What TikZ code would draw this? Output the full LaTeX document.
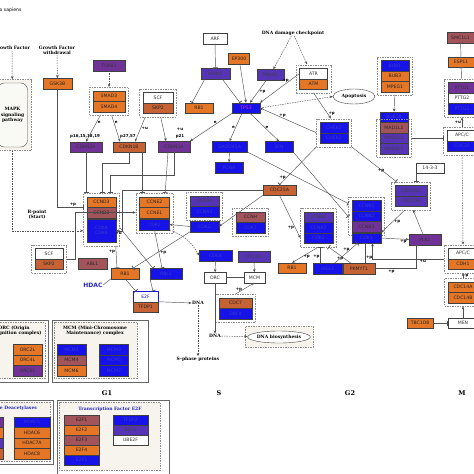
\documentclass[tikz,border=0pt]{standalone}
\usepackage{fontspec}
\setsansfont{DejaVu Sans}
\newfontfamily\kserif{DejaVu Serif}
\usetikzlibrary{positioning,fit,arrows.meta,shapes.geometric}

\definecolor{korange}{RGB}{228,118,38}
\definecolor{kbrown}{RGB}{198,98,52}
\definecolor{krose}{RGB}{162,84,90}
\definecolor{kpurple}{RGB}{112,50,150}
\definecolor{kindigo}{RGB}{86,52,182}
\definecolor{kblue}{RGB}{22,18,232}
\definecolor{kbluetxt}{RGB}{60,60,200}
\definecolor{kline}{RGB}{80,80,80}
\definecolor{kbeige}{RGB}{246,244,236}
\definecolor{ktitle}{RGB}{36,36,190}
\definecolor{kmagenta}{RGB}{235,40,200}

\tikzstyle{gene} = [rectangle, draw=black!75, line width=0.4pt, minimum width=29pt, minimum height=10.5pt, inner sep=0pt, outer sep=0pt, font=\fontsize{4.6}{5}\sffamily]
\tikzstyle{gor} = [gene, fill=korange, text=black!85]
\tikzstyle{gbr} = [gene, fill=kbrown, text=black!85]
\tikzstyle{gro} = [gene, fill=krose, text=black!85]
\tikzstyle{gpu} = [gene, fill=kpurple, text=black!80]
\tikzstyle{gin} = [gene, fill=kindigo, text=black!75]
\tikzstyle{gbl} = [gene, fill=kblue, text=kbluetxt]
\tikzstyle{gwh} = [gene, fill=white, text=black!80]
\tikzstyle{cplx} = [rectangle, draw=black!45, dash pattern=on 1.5pt off 1pt, inner sep=3.5pt]
\tikzstyle{grp} = [draw=black!45, dash pattern=on 1.5pt off 1pt, fill=kbeige]
\tikzstyle{grpframe} = [draw=black!60, line width=0.5pt]
\tikzstyle{tlabel} = [font=\fontsize{4.5}{5}\kserif\bfseries, align=center, inner sep=0.5pt]
\tikzstyle{gtitle} = [font=\fontsize{4.5}{5}\kserif\bfseries, align=center, inner sep=0.5pt]
\tikzstyle{phase} = [font=\fontsize{6.5}{7}\kserif\bfseries, inner sep=0pt]
\tikzstyle{lbl} = [font=\fontsize{4}{4}\sffamily\bfseries, inner sep=0.8pt]
\tikzstyle{link} = [draw=kline, line width=0.45pt]
\tikzstyle{act} = [link, -{Stealth[length=3.2pt,width=2.6pt]}]
\tikzstyle{inh} = [link, -{Bar[width=5pt,line width=0.8pt]}]
\tikzstyle{ind} = [act, dash pattern=on 1.5pt off 1pt]

\begin{document}
\begin{tikzpicture}[x=1pt,y=-1pt]
\useasboundingbox (0,0) rectangle (474,474);

% group boxes at the bottom
\draw[grpframe] (-12,320) rectangle (48,382);
\draw[grp] (-10,322) rectangle (45,378);
\draw[grpframe] (52,320) rectangle (148,382);
\draw[grp] (54,322) rectangle (137,378);
\draw[grpframe] (-12,400) rectangle (53,464);
\draw[grp] (-10,402) rectangle (50,461);
\draw[grpframe] (57,400) rectangle (169,480);
\draw[grp] (59,402) rectangle (160,470);
\node (dnabioc) [grp, minimum width=68pt, minimum height=21pt] at (279,336.5) {};

\node (hs) [anchor=east, font=\fontsize{4.6}{5}\sffamily] at (25,10) {Homo sapiens};

% growth factor, MAPK
\node (gf) [tlabel] at (12,48) {Growth Factor};
\node (mapkc) [cplx, fill=kbeige, minimum width=37pt, minimum height=71pt] at (12.5,115) {};
\node (mapk) [rectangle, rounded corners=7pt, draw=black!70, fill=kbeige!50!white, minimum width=30pt, minimum height=64pt, align=center, font=\fontsize{4.5}{5.6}\kserif\bfseries] at (12.5,115) {MAPK\\signaling\\pathway};
\node (gfw) [tlabel] at (57,50) {Growth Factor\\withdrawal};
\node (gsk3b) [gor] at (57.5,83.5) {GSK3B};
\node (tgfb1) [gpu, minimum width=32pt] at (109,65.5) {TGFB1};
\node (smad3) [gor, minimum width=32pt] at (109,96) {SMAD3};
\node (smad4) [gor, minimum width=32pt, below=0pt of smad3] {SMAD4};
\node (smadc) [cplx, fit=(smad3)(smad4)] {};
\node (scf1) [gwh, minimum width=30pt] at (158,97.5) {SCF};
\node (skp2a) [gbr, minimum width=30pt, below=0pt of scf1] {SKP2};
\node (scfc) [cplx, fit=(scf1)(skp2a)] {};
\node (cdkn2a) [gpu, minimum width=32pt] at (86,147) {CDKN2A};
\node (cdkn1b) [gbr, minimum width=32pt] at (129,147) {CDKN1B};
\node (cdkn1a) [gpu, minimum width=32pt] at (174,146.5) {CDKN1A};
\node (p16) [lbl] at (85,136) {p16,15,18,19};
\node (p27) [lbl] at (128,136) {p27,57};
\node (p21) [lbl] at (180,136) {p21};

% p53 part
\node (arf) [gwh, minimum width=24pt] at (215,38.5) {ARF};
\node (mdm2) [gin] at (215.5,73.5) {MDM2};
\node (ep300) [gor, minimum width=21pt] at (239,58.5) {EP300};
\node (prkdc) [gin, minimum width=27pt] at (270.5,74.5) {PRKDC};
\node (ddc) [tlabel] at (293,33) {DNA damage checkpoint};
\node (atr) [gwh, minimum width=28pt] at (313.5,73.5) {ATR};
\node (atm) [gor, minimum width=28pt, below=0pt of atr] {ATM};
\node (atrc) [cplx, fit=(atr)(atm)] {};
\node (rb1a) [gor, minimum width=28pt] at (199,108) {RB1};
\node (tp53) [gbl, minimum width=28pt, text=kmagenta] at (246,108) {TP53};
\node (apop) [ellipse, draw=black!75, minimum width=42pt, minimum height=15pt, inner sep=0pt, font=\fontsize{4.5}{5}\kserif\bfseries] at (354,96.5) {Apoptosis};
\node (chek1) [gbl, minimum width=28pt] at (334,127.5) {CHEK1};
\node (chek2) [gbl, minimum width=28pt, below=0pt of chek1] {CHEK2};
\node (chekc) [cplx, fit=(chek1)(chek2)] {};
\node (gadd45a) [gbl, minimum width=35pt] at (229.5,146.5) {GADD45A};
\node (sfn) [gbl, minimum width=28pt] at (279,146.5) {SFN};
\node (pcna) [gbl, minimum width=28pt] at (229,167.5) {PCNA};

% spindle checkpoint
\node (bub1) [gbl, minimum width=28pt] at (395,65.5) {BUB1};
\node (bub3) [gor, minimum width=28pt, below=0pt of bub1] {BUB3};
\node (mpeg1) [gor, minimum width=28pt, below=0pt of bub3] {MPEG1};
\node (bubc) [cplx, fit=(bub1)(mpeg1)] {};
\node (bub1b) [gbl, minimum width=28pt] at (394,117) {BUB1B};
\node (mad1l1) [gro, minimum width=28pt, below=0pt of bub1b] {MAD1L1};
\node (mad2l1) [gin, minimum width=28pt, below=0pt of mad1l1] {MAD2L1};
\node (mad2l2) [gin, minimum width=28pt, below=0pt of mad2l1] {MAD2L2};
\node (madc) [cplx, fit=(mad1l1)(mad2l2)] {};
\node (smc1l1) [gro, minimum width=27pt] at (460.5,37.5) {SMC1L1};
\node (espl1) [gor, minimum width=26pt] at (461,62) {ESPL1};
\node (pttg1) [gpu, minimum width=28pt] at (462,87.5) {PTTG1};
\node (pttg2) [gwh, minimum width=28pt, below=0pt of pttg1] {PTTG2};
\node (pttg3) [gbl, minimum width=28pt, below=0pt of pttg2] {PTTG3};
\node (pttgc) [cplx, fit=(pttg1)(pttg3)] {};
\node (apcc1) [gwh, minimum width=30pt] at (462,135.5) {APC/C};
\node (cdc20) [gbl, minimum width=30pt, below=0pt of apcc1] {CDC20};
\node (apcc1c) [cplx, fit=(apcc1)(cdc20)] {};

% cyclins and CDKs
\node (ccnd3) [gor] at (101.5,202) {CCND3};
\node (ccnd2) [gro, below=0pt of ccnd3] {CCND2};
\node (cdk46) [gbl, minimum height=23pt, align=center, below=1.5pt of ccnd2] {CDK4\\CDK6};
\node (ccndc) [cplx, fit=(ccnd3)(cdk46)] {};
\node (ccne2) [gor, minimum width=30pt] at (154.5,202) {CCNE2};
\node (ccne1) [gor, minimum width=30pt, below=0pt of ccne2] {CCNE1};
\node (cdk2a) [gbl, minimum width=30pt, below=1.5pt of ccne1] {CDK2};
\node (ccnec) [cplx, fit=(ccne2)(cdk2a)] {};
\node (ccna1) [gin] at (204.5,201) {CCNA1};
\node (ccna2) [gbl, below=0pt of ccna1] {CCNA2};
\node (ccnac) [cplx, fit=(ccna1)(ccna2)] {};
\node (cdk2b) [gbl, below=4.5pt of ccna2] {CDK2};
\node (ccnh) [gro] at (250.5,217) {CCNH};
\node (cdk7) [gbl, below=0pt of ccnh] {CDK7};
\node (ccnhc) [cplx, fit=(ccnh)(cdk7)] {};
\node (cdc25a) [gbr, minimum width=33pt] at (279.5,190) {CDC25A};
\node (ccna1r) [gin] at (318.5,217) {CCNA1};
\node (ccna2r) [gbl, below=0pt of ccna1r] {CCNA2};
\node (cdk2c) [gbl, below=0pt of ccna2r] {CDK2};
\node (ccnarc) [cplx, fit=(ccna1r)(cdk2c)] {};
\node (ccnb1) [gbl] at (366.5,205.5) {CCNB1};
\node (ccnb2) [gbl, below=0pt of ccnb1] {CCNB2};
\node (ccnb3) [gpu, below=0pt of ccnb2] {CCNB3};
\node (ccnbc) [cplx, fit=(ccnb1)(ccnb3)] {};
\node (cdk1) [gbl, below=1pt of ccnb3] {CDK1};
\node (cdc25c) [gin, minimum width=32pt] at (411,190.5) {CDC25C};
\node (cdc25b) [gin, minimum width=32pt, below=0pt of cdc25c] {CDC25B};
\node (cdc25cc) [cplx, fit=(cdc25c)(cdc25b)] {};
\node (ywhab) [gwh, minimum width=28pt] at (430,168) {14-3-3};
\node (plk1) [gpu, minimum width=32pt] at (425,239.5) {PLK1};
\node (apcc2) [gwh, minimum width=30pt] at (463,253.5) {APC/C};
\node (cdh1) [gor, minimum width=30pt, below=0pt of apcc2] {CDH1};
\node (apcc2c) [cplx, fit=(apcc2)(cdh1)] {};
\node (cdc14a) [gor, minimum width=30pt] at (463,287) {CDC14A};
\node (cdc14b) [gor, minimum width=30pt, below=0pt of cdc14a] {CDC14B};
\node (cdc14c) [cplx, fit=(cdc14a)(cdc14b)] {};
\node (men) [gwh, minimum width=30pt] at (463,323) {MEN};
\node (tbc1d8) [gor, minimum width=26pt] at (420,323) {TBC1D8};

% G1/S
\node (rpoint) [tlabel] at (37,215) {R-point\\(Start)};
\node (scf2) [gwh, minimum width=28pt] at (49,253.5) {SCF};
\node (skp2b) [gbr, minimum width=28pt, below=0pt of scf2] {SKP2};
\node (scf2c) [cplx, fit=(scf2)(skp2b)] {};
\node (abl1) [gro] at (92.5,263.5) {ABL1};
\node (rb1b) [gor, minimum width=28pt] at (125,273.5) {RB1};
\node (rbl1) [gbl, minimum width=32pt] at (166,273.5) {RBL1};
\node (hdac) [font=\fontsize{6}{6}\sffamily\bfseries, text=ktitle, inner sep=0.5pt] at (93,285) {HDAC};
\node (e2f) [gene, minimum width=25pt, fill=white, draw=kblue, text=kblue] at (145.5,296.5) {E2F};
\node (tfdp1) [gbr, minimum width=25pt, below=0pt of e2f] {TFDP1};
\node (dnaa) [tlabel] at (198,303) {DNA};
\node (sphase) [tlabel] at (198,359) {S-phase proteins};
\node (cdc6) [gbl, minimum width=33pt] at (215.5,255.5) {CDC6};
\node (cdc45l) [gin, minimum width=32pt] at (254,256.5) {CDC45L};
\node (orc) [gwh, minimum width=22pt] at (215,277.5) {ORC};
\node (mcm) [gwh, minimum width=21pt] at (254.5,277.5) {MCM};
\node (cdc7) [gbr, minimum width=33pt] at (235.5,303) {CDC7};
\node (dbf4) [gbl, minimum width=33pt, below=0pt of cdc7] {DBF4};
\node (cdc7c) [cplx, fit=(cdc7)(dbf4)] {};
\node (rb1c) [gor, minimum width=28pt] at (292,268) {RB1};
\node (wee1) [gbl] at (327.5,268.5) {WEE1};
\node (pkmyt1) [gbr, minimum width=32pt] at (359,268.5) {PKMYT1};
\node (dnab) [tlabel] at (215,336) {DNA};
\node (dnabio) [ellipse, draw=black!75, fill=white, minimum width=58pt, minimum height=12pt, inner sep=0pt, font=\fontsize{4.5}{5}\kserif\bfseries] at (279,337) {DNA biosynthesis};

% complexes at the bottom
\node (orct) [gtitle] at (14,331) {ORC (Origin\\Recognition complex)};
\node (orc2l) [gor] at (27.5,349.5) {ORC2L};
\node (orc4l) [gor, below=0pt of orc2l] {ORC4L};
\node (orc6l) [gpu, below=0pt of orc4l] {ORC6L};
\node (mcmt) [gtitle] at (95,331) {MCM (Mini-Chromosome\\Maintenance) complex};
\node (mcm2) [gbl] at (71.5,349.5) {MCM2};
\node (mcm4) [gro, below=0pt of mcm2] {MCM4};
\node (mcm6) [gor, below=0pt of mcm4] {MCM6};
\node (mcm3) [gbl] at (114,349.5) {MCM3};
\node (mcm5) [gbl, below=0pt of mcm3] {MCM5};
\node (mcm7) [gbl, below=0pt of mcm5] {MCM7};
\node (hdact) [gtitle, text=ktitle] at (10,408) {Histone Deacetylases};
\node (hdac1) [gpu, minimum width=30pt] at (-12,422) {HDAC1};
\node (hdac2) [gor, minimum width=30pt, below=0pt of hdac1] {HDAC2};
\node (hdac3) [gin, minimum width=30pt, below=0pt of hdac2] {HDAC3};
\node (hdac4) [gbr, minimum width=30pt, below=0pt of hdac3] {HDAC4};
\node (hdac5) [gbl, minimum width=36pt] at (32,422) {HDAC5};
\node (hdac6) [gor, minimum width=36pt, below=0pt of hdac5] {HDAC6};
\node (hdac7a) [gor, minimum width=36pt, below=0pt of hdac6] {HDAC7A};
\node (hdac8) [gor, minimum width=36pt, below=0pt of hdac7a] {HDAC8};
\node (e2ft) [gtitle, text=ktitle] at (110,409) {Transcription Factor E2F};
\node (e2f1) [gro, minimum width=35pt, minimum height=10pt] at (81.5,420) {E2F1};
\node (e2f2) [gor, minimum width=35pt, minimum height=10pt, below=0pt of e2f1] {E2F2};
\node (e2f3) [gro, minimum width=35pt, minimum height=10pt, below=0pt of e2f2] {E2F3};
\node (e2f4) [gor, minimum width=35pt, minimum height=10pt, below=0pt of e2f3] {E2F4};
\node (e2f5) [gbl, minimum width=35pt, minimum height=10pt, below=0pt of e2f4] {E2F5};
\node (tfdp2) [gbl, minimum width=35pt, minimum height=10pt] at (130.5,420) {TFDP2};
\node (e2f6) [gin, minimum width=35pt, minimum height=10pt, below=0pt of tfdp2] {E2F6};
\node (ube2f) [gwh, minimum width=35pt, minimum height=10pt, below=0pt of e2f6] {UBE2F};

% phases
\node (g1) [phase] at (107,393) {G1};
\node (sph) [phase] at (219,393) {S};
\node (g2) [phase] at (350,393) {G2};
\node (mph) [phase] at (462,393) {M};

% connectors
\draw [ind] (gf) -- (mapkc);
\draw [ind] (mapkc.south) |- (ccndc.west |- cdk46.west);
\draw [ind] (gfw) -- (gsk3b);
\draw [inh] (gsk3b.south) |- (ccndc.west |- ccnd3.south) node[lbl, pos=0.8, above] {+p};
\draw [ind] (tgfb1) -- (smadc);
\draw [act] ([xshift=11pt]smadc.south west) -- (cdkn2a.north) node[lbl, pos=0.25, right] {e};
\draw [act] ([xshift=-17pt]smadc.south east) -- ([xshift=7pt]cdkn1b.north west) node[lbl, pos=0.25, right] {e};
\draw [act] ([xshift=6pt]scfc.south west) -- ([xshift=-10pt]cdkn1b.north east) node[lbl, pos=0.45, right] {+u};
\draw [act] ([xshift=-16pt]scfc.south east) -- ([xshift=-8pt]cdkn1a.north);
\node (p21u) [lbl] at (180,129) {+u};

\draw [inh] (arf) -- (mdm2);
\draw [inh] ([xshift=4pt]mdm2.south west) -- ([xshift=7pt]rb1a.north west);
\draw [inh] ([xshift=-8pt]mdm2.south east) -- ([xshift=-6pt]tp53.north);
\draw [act] (ep300) -- (tp53.north);
\draw [act] (prkdc) -- ([xshift=4pt]tp53.north) node[lbl, pos=0.5, right] {+p};
\draw [act] (atr.west) -- (tp53.north east) node[lbl, pos=0.35, above] {+p};
\draw [ind] (tp53.east) -- (apop.west);
\draw [ind] (ddc) -- (prkdc);
\draw [ind] (ddc) -- (atrc);
\draw [act] (atrc.south) -- ([xshift=-3pt]chekc.north) node[lbl, pos=0.8, right] {+p};
\draw [act] (chekc.west) -- (tp53.east) node[lbl, pos=0.6, above] {+p};
\draw [act] (tp53.south west) -- (cdkn1a.north east) node[lbl, pos=0.4, above] {e};
\draw [act] ([xshift=-4pt]tp53.south) -- (gadd45a.north) node[lbl, pos=0.5, left] {e};
\draw [act] ([xshift=4pt]tp53.south) -- (sfn.north) node[lbl, pos=0.5, right] {e};
\draw [act] (gadd45a) -- (pcna);
\draw [inh] (gadd45a.south east) -- ([yshift=-7pt]ccnbc.north west);
\draw [inh] (sfn.south east) -- ([yshift=-20pt]ccnbc.north west);
\draw [inh] (chekc.south east) -- ([xshift=5pt]cdc25cc.north west) node[lbl, pos=0.75, above left] {+p};
\draw [inh] (chekc.south west) -- (cdc25a.north) node[lbl, pos=0.8, left] {+p};
\draw [inh] (ywhab.south west) -- ([xshift=5pt]cdc25cc.north);

\draw [inh] (cdkn2a.south) -- (cdkn2a.south |- ccndc.north);
\draw [inh] (cdkn1b.south) -- ++(0,11) -| ([xshift=19pt]ccndc.north west);
\draw [inh] (cdkn1a.south) -- ++(0,23) -| ([xshift=27pt]ccndc.north west);
\draw [inh] ([xshift=-3pt]cdkn1b.south east) -- ([xshift=-3pt]cdkn1b.south east |- ccnec.north);
\draw [inh] ([xshift=-6pt]cdkn1a.south) -- ([xshift=-8pt]ccnec.north east);
\coordinate (cdk46in) at ([xshift=3pt]ccndc.east);
\draw [act] (cdc25a.west) -| (cdk46in) |- (cdk46.east) node[lbl, pos=0.8, below] {+u};
\draw [act] (scf2c.east) -- ++(9,0) |- (ccnec.west |- ccne1.west);
\draw [act] (cdc25a.south west) -- (cdk2b.east);
\draw [act] (cdk2b.west) -- (cdk2a.east);
\draw [act] (cdc25a.south) -- (ccnarc.west |- cdk2c.west) node[lbl, pos=0.75, left] {+p};
\draw [act] (ccnarc.south) -- (rb1c.north) node[lbl, pos=0.6, right] {+p};

\draw [inh] ([xshift=-4pt]ccndc.south east) -- ([xshift=-8pt]rb1b.north) node[lbl, pos=0.25, left] {+p};
\draw [inh] ([yshift=-8pt]ccndc.east) -- ([xshift=-13pt]rbl1.north);
\draw [inh] (cdk2b.south west) -- ([xshift=8pt]rb1b.north);
\draw [inh] (cdk2a.south) -- ([xshift=-4pt]rbl1.north) node[lbl, pos=0.6, right] {+p};
\draw [ind] (cdk2a.south east) to[bend left=20] (cdc6.west);
\draw [act] (cdc6) -- (orc);
\draw [act] (cdc45l) -- (mcm);
\draw [link] (orc) -- (mcm);
\draw [act] (cdc7c.north) -- (mcm.south) node[lbl, pos=0.4, left] {+p};
\draw [act] (orc.south) -- (dnab.north);
\draw [ind] (dnab) -- (dnabio);
\draw [inh] (rb1b.south) -- ([xshift=3pt]e2f.north west);
\draw [inh] (rbl1.south west) -- ([xshift=-5pt]e2f.north east);
\draw [link] (hdac.east) -- (rb1b.south west);
\draw [act] (e2f.south east) -- (dnaa.west);
\draw [ind] (dnaa) -- (sphase);

\draw [inh] ([xshift=-7pt]wee1.north) -- ([xshift=-7pt]wee1.north |- ccnarc.south) node[lbl, pos=0.4, left] {+p};
\draw [inh] ([xshift=-8pt]pkmyt1.north) -- ([xshift=10pt]ccnarc.south) node[lbl, pos=0.3, left] {+p};
\draw [inh] ([xshift=7pt]wee1.north) -- ([xshift=-9pt]cdk1.south) node[lbl, pos=0.7, left] {+p};
\draw [inh] ([xshift=6pt]pkmyt1.north) -- ([xshift=6pt]pkmyt1.north |- cdk1.south) node[lbl, pos=0.3, right] {+p};
\draw [act] (cdk1.east) -- (plk1.west) node[lbl, pos=0.8, below] {+p};
\draw [act] ([xshift=-2pt]plk1.north) -- ([xshift=2pt]cdc25cc.south);
\draw [act] ([xshift=-6pt]cdc25cc.south) -- (cdk1.north east) node[lbl, pos=0.5, right] {+p};
\draw [inh] (pkmyt1.east) -| ([xshift=-9pt]plk1.south) node[lbl, pos=0.2, below] {+p};
\draw [act] (apcc2c.west) -| ([xshift=6pt]cdk1.south) node[lbl, pos=0.15, below] {+u};

\draw [act] (bubc) -- (bub1b);
\draw [inh] (madc.east) -- (apcc1c.west |- madc.east);
\draw [act] (apcc1c) -- (pttgc) node[lbl, pos=0.5, left] {+u};
\draw [inh] (pttgc) -- (espl1);
\draw [inh] (espl1) -- (smc1l1);
\draw [ind] (apcc1c.south) -- (apcc2c.north);
\draw [act] (cdc14c.north) -- (apcc2c.south) node[lbl, pos=0.5, right] {-p};
\draw [act] (men) -- (cdc14c);
\draw [inh] (tbc1d8) -- (men);
\end{tikzpicture}
\end{document}
